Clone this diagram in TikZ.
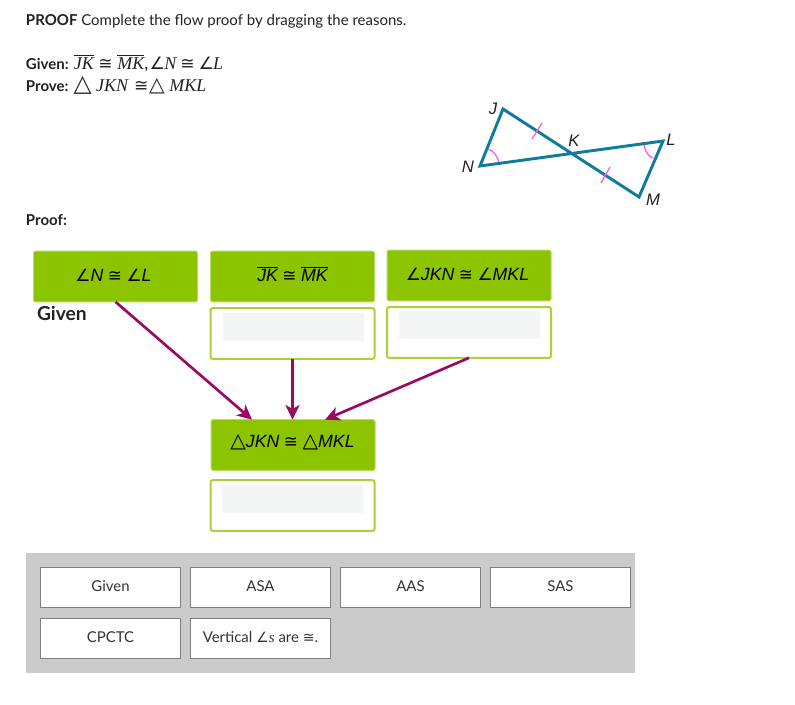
\documentclass[tikz,border=0pt]{standalone}
\usepackage{fontspec}
\setmainfont{Lato}
\newfontfamily\mathserif{Liberation Serif}[Ligatures=TeX]
\newfontfamily\boxsans{Liberation Sans}
\newfontfamily\symfont{DejaVu Sans}[Scale=0.95]
\usetikzlibrary{arrows.meta,calc}
\definecolor{leaf}{HTML}{8DC400}
\definecolor{leafedge}{HTML}{B5DB60}
\definecolor{slotedge}{HTML}{A8D13C}
\definecolor{slotfill}{HTML}{F4F6F6}
\definecolor{plum}{HTML}{990A60}
\definecolor{teal2}{HTML}{0F7C9C}
\definecolor{pink2}{HTML}{FF5CE6}
\definecolor{panel}{HTML}{CBCBCB}
\definecolor{ink}{HTML}{222222}
\newcommand{\si}[1]{{\boxsans\itshape #1}}
\newcommand{\se}[1]{{\mathserif\itshape #1}}
\newcommand{\cg}{{\symfont ≅}}
\newcommand{\ang}{{\symfont ∠}}
\newcommand{\tr}{{\symfont △}}
\newcommand{\bigtr}[1]{{\fontsize{#1}{15}\selectfont\symfont △}}
\newcommand{\ovl}[1]{$\overline{\hbox{#1}}$}
\tikzset{
  x=0.75pt,y=-0.75pt,
  every node/.style={inner sep=0pt,outer sep=0pt,text=ink},
  stmt/.style={draw=leafedge,line width=0.75pt,fill=leaf,rounded corners=1.5pt,minimum width=123pt,minimum height=38pt,text=black},
  stmtxt/.style={font=\fontsize{13.3}{15}\selectfont,text=black},
  slot/.style={draw=slotedge,line width=1.5pt,fill=white,rounded corners=1.5pt,minimum width=123pt,minimum height=38pt},
  slotin/.style={fill=slotfill,minimum width=106pt,minimum height=21pt},
  choice/.style={draw=black!50,line width=0.75pt,fill=white,minimum width=105.5pt,minimum height=30pt},
  choicetxt/.style={font=\fontsize{11.2}{13}\selectfont,text=black!80},
  flow/.style={draw=plum,line width=2pt,-{Stealth[length=11pt,width=10.5pt,inset=3pt]}},
  head/.style={anchor=base west,font=\fontsize{11.25}{13}\selectfont},
  tri/.style={draw=teal2,line width=2.2pt,line join=miter},
  mark2/.style={draw=pink2,line width=1pt},
  vlabel/.style={font=\fontsize{12.5}{14}\selectfont\boxsans\itshape}
}
\begin{document}
\begin{tikzpicture}
\useasboundingbox (0,0) rectangle (795,704);
\fill[white] (0,0) rectangle (795,704);
% header
\node[head] (title) at (26,25) {\textbf{PROOF} Complete the flow proof by dragging the reasons.};
\node[head] (given) at (26,69) {\textbf{Given:} {\fontsize{13.5}{15}\selectfont\ovl{\se{JK}} \cg{} \ovl{\se{MK}}, \hspace*{-2.5pt}\ang\hspace*{-0.5pt}\se{N} \hspace*{-0.5pt}\cg{} \hspace*{-0.5pt}\ang\hspace*{-0.5pt}\se{L}}};
\node[head] (prove) at (26,91) {\textbf{Prove:} {\fontsize{13.5}{15}\selectfont\bigtr{18.5} \se{JKN} \hspace*{1pt}\cg\hspace*{0.5pt}\bigtr{16} \se{MKL}}};
\node[head] (proof) at (26,225) {\textbf{Proof:}};
% figure
\coordinate (J) at (503,109);
\coordinate (N) at (480,166);
\coordinate (L) at (663,141);
\coordinate (M) at (639,197);
\draw[tri] (M) -- (J) -- (N) -- (L) -- cycle;
\draw[mark2] (532,139) -- (542,123);
\draw[mark2] (601,183) -- (610,167);
\draw[mark2] (488,149) .. controls (494,151) and (497,156) .. (499,162);
\draw[mark2] (644,145) .. controls (645,151) and (648,156) .. (653,158);
\node[vlabel] (lJ) at (493,109) {J};
\node[vlabel] (lK) at (574,141) {K};
\node[vlabel] (lL) at (671,140) {L};
\node[vlabel] (lN) at (468,167) {N};
\node[vlabel] (lM) at (653,200) {M};
% panel
\fill[panel] (26,553) rectangle (635,673);
\node[choice] (c1) at (110.5,587) {};
\node[choice] (c2) at (260.5,587) {};
\node[choice] (c3) at (410.5,587) {};
\node[choice] (c4) at (560.5,587) {};
\node[choice] (c5) at (110.5,638) {};
\node[choice] (c6) at (260.5,638) {};
\node[choicetxt] (t1) at (110.5,586) {Given};
\node[choicetxt] (t2) at (260.5,586) {ASA};
\node[choicetxt] (t3) at (410.5,586) {AAS};
\node[choicetxt] (t4) at (560.5,586) {SAS};
\node[choicetxt] (t5) at (110.5,637) {CPCTC};
\node[choicetxt] (t6) at (260.5,637) {Vertical \ang\se{s} are \cg.};
% statements
\node[stmt] (s1) at (115.5,276.5) {};
\node[stmt] (s2) at (292.5,276.5) {};
\node[stmt] (s3) at (469,275.5) {};
\node[stmt] (s4) at (293,445) {};
\node[stmtxt] (st1) at (113.5,275) {\ang\si{N} \cg{} \ang\si{L}};
\node[stmtxt] (st2) at (292.5,274) {\ovl{\si{JK}} \cg{} \ovl{\si{MK}}};
\node[stmtxt] (st3) at (467.5,274.5) {\ang\si{JKN} \cg{} \ang\si{MKL}};
\node[stmtxt] (st4) at (292.5,442) {\bigtr{16}\si{JKN} \cg{} \bigtr{16}\si{MKL}};
\node[anchor=base west,font=\fontsize{14.4}{16}\selectfont\bfseries] (g1) at (37,320) {Given};
\node[slot] (r2) at (292.5,333.5) {};
\node[slot] (r3) at (469,332.5) {};
\node[slot] (r4) at (292.5,505.5) {};
\node[slotin] (i2) at (293.5,327) {};
\node[slotin] (i3) at (469.5,325) {};
\node[slotin] (i4) at (292.5,499) {};
% arrows
\draw[flow] (s1.south) -- ($(s4.north)+(-41,0)$);
\draw[flow] (r2.south) -- (r2.south |- s4.north);
\draw[flow] (r3.south) -- ($(s4.north)+(32,0)$);
\end{tikzpicture}
\end{document}
